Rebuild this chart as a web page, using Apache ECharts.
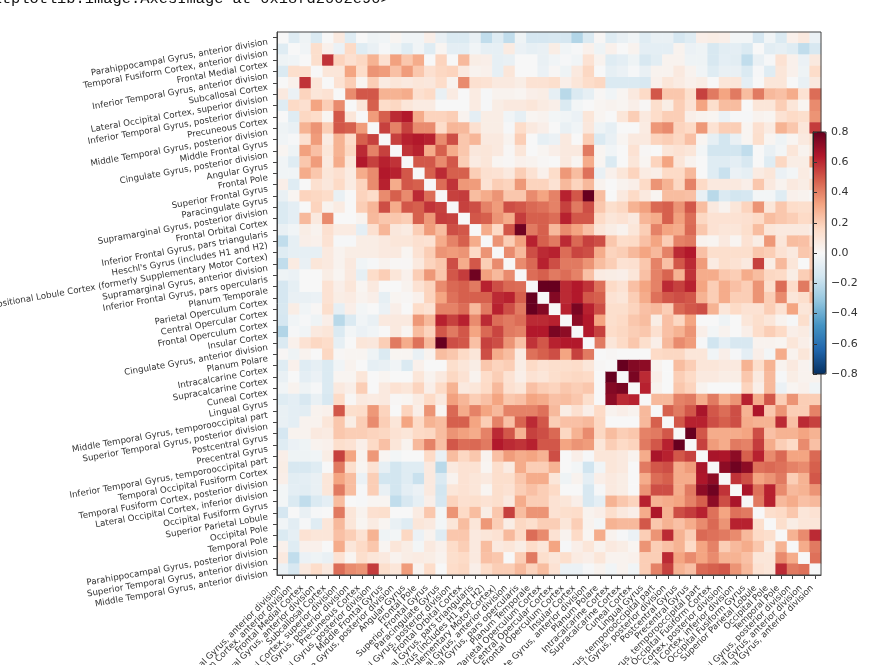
<!DOCTYPE html>
<html><head><meta charset="utf-8">
<style>html,body{margin:0;padding:0;background:#fff}#c{width:877px;height:665px;filter:blur(0.4px)}</style>
<script src="https://cdn.jsdelivr.net/npm/echarts@6/dist/echarts.min.js"></script>
</head><body><div id="c"></div>
<script>
const regions = ["Parahippocampal Gyrus, anterior division","Temporal Fusiform Cortex, anterior division","Frontal Medial Cortex","Inferior Temporal Gyrus, anterior division","Subcallosal Cortex","Lateral Occipital Cortex, superior division","Inferior Temporal Gyrus, posterior division","Precuneous Cortex","Middle Temporal Gyrus, posterior division","Middle Frontal Gyrus","Cingulate Gyrus, posterior division","Angular Gyrus","Frontal Pole","Superior Frontal Gyrus","Paracingulate Gyrus","Supramarginal Gyrus, posterior division","Frontal Orbital Cortex","Inferior Frontal Gyrus, pars triangularis","Heschl's Gyrus (includes H1 and H2)","Juxtapositional Lobule Cortex (formerly Supplementary Motor Cortex)","Supramarginal Gyrus, anterior division","Inferior Frontal Gyrus, pars opercularis","Planum Temporale","Parietal Operculum Cortex","Central Opercular Cortex","Frontal Operculum Cortex","Insular Cortex","Cingulate Gyrus, anterior division","Planum Polare","Intracalcarine Cortex","Supracalcarine Cortex","Cuneal Cortex","Lingual Gyrus","Middle Temporal Gyrus, temporooccipital part","Superior Temporal Gyrus, posterior division","Postcentral Gyrus","Precentral Gyrus","Inferior Temporal Gyrus, temporooccipital part","Temporal Occipital Fusiform Cortex","Temporal Fusiform Cortex, posterior division","Lateral Occipital Cortex, inferior division","Occipital Fusiform Gyrus","Superior Parietal Lobule","Occipital Pole","Temporal Pole","Parahippocampal Gyrus, posterior division","Superior Temporal Gyrus, anterior division","Middle Temporal Gyrus, anterior division"];

// Upper triangle of the correlation matrix: each row holds the columns right of the diagonal.
const r01=[-.1,-.04,-.12,0,.08,-.1,0,-.04,-.03,.02,-.03,-.03,.05,-.06,-.12,-.12,-.06,-.2,-.1,-.2,-.04,-.14,-.14,-.13,-.14,-.24,-.12,.01,-.1,-.06,-.03,-.1,-.06,-.06,-.14,-.1,.05,.06,.05,-.02,-.02,-.14,-.03,-.12,.04,.08,-.05];
const r02=[-.03,.14,.04,-.05,.16,-.1,-.06,-.01,-.04,-.1,-.03,-.1,.02,-.08,-.08,-.03,-.07,-.07,.07,-.05,-.07,-.06,.06,-.03,-.01,.04,-.04,.04,0,.03,-.08,-.08,-.08,.03,-.05,-.04,-.13,-.09,-.08,-.12,0,-.09,-.07,-.1,-.2,-.13];
const r03=[.14,.58,.18,.13,.17,.28,.13,.33,.22,.3,0,.18,0,.26,.06,.05,-.07,-.06,0,0,-.06,-.03,-.01,-.03,.12,.03,-.1,-.08,-.04,-.13,-.09,.03,.03,-.04,-.04,-.13,-.08,-.09,-.2,-.06,-.01,.12,.04,-.05,.08];
const r04=[.1,.1,.32,.15,.36,.34,.24,.34,.22,.13,.17,.18,.08,.03,.04,-.07,.1,0,0,-.05,.01,-.04,.08,.17,0,-.07,-.05,-.01,-.06,.03,.03,.08,.03,-.03,-.1,-.06,-.06,-.12,-.01,-.1,.1,.04,-.04,.15];
const r05=[.12,.2,.02,.2,.07,.1,.08,.1,.09,.15,.03,.38,.13,.12,.08,.08,.06,.12,.12,.14,.05,.1,.15,.17,-.12,-.12,-.12,-.13,.04,.1,.07,.04,.06,0,.1,.1,-.08,0,.1,.1,0,-.06,.08];
const r06=[.38,.5,.5,.28,.28,.3,.13,.16,-.06,.07,0,.07,-.01,.03,.03,.02,.05,.06,-.07,-.22,-.12,-.07,.01,-.03,.02,.08,.16,.5,.22,.22,.14,.55,.42,.32,.42,.25,.42,.26,.24,.3,.12,.45];
const r07=[.1,.48,.15,.17,.1,.07,.07,0,0,0,.07,-.01,.06,.08,.08,.1,.07,.05,-.12,-.02,0,.02,.03,.02,.05,.01,.14,.06,.2,.12,.32,.14,.25,.25,0,.1,.1,.2,.1,.02,.38];
const r08=[.34,.48,.6,.64,.3,.18,.18,.2,.03,-.08,.06,.06,-.03,-.07,.02,.03,-.02,-.03,-.05,.1,.02,0,.1,.2,.08,.15,.2,.2,.05,.03,.02,-.05,-.01,-.01,.03,.02,.12,.16,.14,.36];
const r09=[.55,.4,.55,.38,.38,.15,.27,.26,.13,.06,.06,-.01,.15,.08,.05,0,-.06,-.03,.09,-.04,-.07,0,0,.07,.35,.38,.18,.16,.35,.12,.2,.2,.02,.13,.07,.28,.22,.1,.56];
const r10=[.55,.62,.64,.62,.38,.52,.22,.27,.08,.08,.03,.2,0,-.07,-.05,.08,0,.2,-.12,-.06,.02,.08,.08,.18,.2,.17,.24,.02,-.07,-.15,-.06,.02,.14,.02,-.04,.02,.08,.14];
const r11=[.58,.62,.3,.48,.3,.22,.09,.1,.08,.01,.1,0,.02,.05,.08,.08,.42,.02,-.03,0,.12,.01,0,.1,.12,.1,-.02,-.15,-.15,-.15,-.2,0,-.06,-.02,.1,.03,.1];
const r12=[.5,.5,.38,.5,.2,.07,.1,.02,.01,.04,.03,.01,0,.08,.02,.3,.02,-.12,0,.1,.02,.18,.32,.1,.03,0,-.1,-.1,-.08,-.13,0,-.1,.17,.06,.06,.34];
const r13=[.48,.6,.48,.48,.2,.13,.12,.08,.2,.12,.04,.15,.35,.25,.44,-.06,.04,.1,.18,.07,.05,.16,.16,.26,0,-.1,-.18,-.05,-.07,.07,.1,-.05,-.02,.07,.03];
const r14=[.45,.58,.35,.34,.12,.2,.18,.35,.18,.18,.12,.26,.18,.26,.03,0,.03,.05,.16,.36,.28,.17,.4,.16,.08,.08,.08,.05,.22,.08,.03,.08,.06,.15];
const r15=[.55,.56,.25,.3,.36,.22,.22,.38,.32,.4,.62,.5,.8,.25,0,.08,.16,.08,.02,.25,.25,.24,-.06,-.22,-.12,-.15,-.14,-.02,-.02,-.1,.04,.03,0];
const r16=[.55,.52,.4,.34,.52,.5,.46,.44,.4,.55,.42,.52,.22,.14,.17,.28,.33,.46,.48,.36,.5,.25,.08,.03,.1,.18,.36,.1,.22,.15,.14,.15];
const r17=[.5,.48,.36,.3,.56,.48,.48,.45,.62,.5,.5,.16,.1,.12,.08,.27,.3,.48,.33,.45,.17,.12,.12,.12,.13,.16,.25,.22,.2,.16,.17];
const r18=[.3,.16,.5,.78,.42,.48,.26,.38,.32,.24,.1,.06,.03,.1,.2,.4,.32,.3,.46,.22,.12,.1,.1,.14,.25,.1,.08,.08,.08,.05];
const r19=[.36,.2,.33,.62,.48,.42,.6,.46,.55,.52,.22,.15,.16,.24,.32,.2,.4,.42,.03,.02,.08,.02,.12,.06,.35,.1,.25,.24,.15];
const r20=[.38,.26,.52,.6,.62,.45,.54,.52,.3,.18,.2,.26,.32,.26,.4,.6,.64,.24,.14,.14,.14,.14,.22,.2,.12,.08,.22,.2];
const r21=[.38,.46,.62,.52,.42,.42,.36,.25,.2,.12,.13,.22,.4,.24,.5,.6,.34,.07,.14,.12,.08,.55,.06,.26,.1,0,.2];
const r22=[.45,.48,.42,.45,.4,.24,.07,.06,.05,.1,.24,.4,.47,.28,.58,.3,.3,.22,.2,.3,.25,.17,.16,.06,.2,.26];
const r23=[.8,.8,.6,.64,.58,.44,.16,.12,.24,.32,.4,.6,.55,.62,.32,.2,.3,.24,.2,.36,.14,.45,.15,.42,.18];
const r24=[.74,.6,.64,.5,.48,.12,.1,.2,.3,.44,.5,.52,.5,.28,.2,.3,.2,.2,.36,.2,.38,.1,.14,.25];
const r25=[.62,.76,.62,.52,.14,.14,.18,.24,.26,.2,.46,.5,.52,.28,.1,.16,.12,.12,.2,.12,.32,.1,.12];
const r26=[.72,.64,.32,.14,.16,.22,.25,.06,.24,.17,.32,0,0,-.04,0,.1,.14,.1,.03,-.01,.14,-.05];
const r27=[.64,.55,.15,.17,.2,.22,.13,.24,.28,.36,.05,-.02,.03,0,.05,.15,.2,.16,.05,.07,-.05];
const r28=[.42,.1,.16,.22,.14,.05,.26,.38,.34,-.01,-.16,-.08,-.13,-.13,.03,.03,.02,.1,.05,-.01];
const r29=[.01,0,0,0,.16,.17,.17,.1,.1,-.03,.05,-.01,-.08,.05,-.02,.3,.03,.1,.03];
const r30=[.8,.74,.72,.03,0,.25,.2,.1,.1,.08,.08,.28,.14,.28,.03,.08,.03,-.03];
const r31=[.76,.6,.05,0,.2,.16,.08,.08,.06,.06,.22,.08,.26,-.01,.06,.03,.03];
const r32=[.62,.03,0,.22,.18,.03,0,0,0,.18,.05,.26,-.05,.02,.04,-.03];
const r33=[.26,.26,.4,.42,.3,.42,.3,.36,.62,.3,.5,.2,.36,.2,.2];
const r34=[.48,.42,.5,.66,.5,.45,.52,.28,.65,.22,.36,.2,.2,.4];
const r35=[.5,.62,.62,.52,.48,.52,.3,.28,.28,.6,.24,.6,.55];
const r36=[.8,.5,.3,.3,.3,.32,.52,.24,.28,.28,.32,.28];
const r37=[.55,.34,.3,.42,.4,.56,.3,.2,.16,.38,.24];
const r38=[.66,.65,.72,.48,.62,.38,.46,.32,.32,.46];
const r39=[.72,.78,.72,.44,.46,.44,.4,.38,.48];
const r40=[.58,.52,.32,.36,.42,.2,.28,.5];
const r41=[.66,.44,.62,.38,.26,.28,.36];
const r42=[.42,.62,.26,.3,.24,.26];
const r43=[.14,.16,.22,.1,.12];
const r44=[.14,.06,.1,.1];
const r45=[.28,.38,.6];
const r46=[.3,.42];
const r47=[.44];
const upperRows=[r01,r02,r03,r04,r05,r06,r07,r08,r09,r10,r11,r12,r13,r14,r15,r16,r17,r18,r19,r20,r21,r22,r23,r24,r25,r26,r27,r28,r29,r30,r31,r32,r33,r34,r35,r36,r37,r38,r39,r40,r41,r42,r43,r44,r45,r46,r47];
const colorbarTicks=[-.8,-.6,-.4,-.2,0,.2,.4,.6,.8];
const notebookEcho="<matplotlib.image.AxesImage at 0x18fd2002e90>";

const n=regions.length, cells=[];
upperRows.forEach((row,i)=>{
  if(row.length!==n-1-i) throw new Error('row '+(i+1)+' has '+row.length);
  row.forEach((v,k)=>{const j=i+1+k; cells.push([j,i,v]); cells.push([i,j,v]);});
});
for(let i=0;i<n;i++) cells.push([i,i,0]);

const rdbu=['#053061','#2166ac','#4393c3','#92c5de','#d1e5f0','#f7f7f7','#fddbc7','#f4a582','#d6604d','#b2182b','#67001f'];
const ink='#333', spine='#444';
const chart=echarts.init(document.getElementById('c'));
chart.setOption({
  animation:false,
  backgroundColor:'#fff',
  graphic:[{type:'text',x:-26,y:-9,style:{text:notebookEcho,font:'15.4px "Liberation Mono"',fill:'#111'}}],
  grid:[
    {left:277,top:32,width:544,height:543,outerBoundsMode:'none',containLabel:false,show:true,backgroundColor:'transparent',borderColor:spine,borderWidth:1,z:3},
    {left:813,top:132,width:13,height:242,outerBoundsMode:'none',containLabel:false,show:true,backgroundColor:'transparent',borderColor:'#222',borderWidth:1,z:8}
  ],
  xAxis:[
    {type:'category',gridIndex:0,data:regions,position:'bottom',z:3,
     axisTick:{show:true,alignWithLabel:true,length:4,lineStyle:{color:spine}},
     axisLine:{lineStyle:{color:spine}},
     axisLabel:{interval:0,rotate:45,margin:15,fontSize:8.7,fontFamily:'DejaVu Sans',color:ink,verticalAlign:'bottom',hideOverlap:false},
     splitLine:{show:false},splitArea:{show:false}},
    {type:'value',gridIndex:1,show:false,min:0,max:1}
  ],
  yAxis:[
    {type:'category',gridIndex:0,data:regions,inverse:true,z:3,
     axisTick:{show:true,alignWithLabel:true,length:4,lineStyle:{color:spine}},
     axisLine:{lineStyle:{color:spine}},
     axisLabel:{interval:0,rotate:10,margin:10,fontSize:8.7,fontFamily:'DejaVu Sans',color:ink,verticalAlign:'top',hideOverlap:false},
     splitLine:{show:false},splitArea:{show:false}},
    {type:'value',gridIndex:1,position:'right',min:colorbarTicks[0],max:colorbarTicks[colorbarTicks.length-1],interval:.2,z:8,
     axisLine:{show:true,lineStyle:{color:'#222'}},
     axisTick:{show:true,length:4,lineStyle:{color:'#333'}},
     axisLabel:{margin:5,fontSize:11,fontFamily:'DejaVu Sans',color:ink,formatter:v=>v.toFixed(1).replace('-','\u2212')},
     splitLine:{show:false}}
  ],
  visualMap:{type:'continuous',seriesIndex:0,min:-.8,max:.8,calculable:false,realtime:false,hoverLink:false,
    left:813,top:132,itemWidth:13,itemHeight:242,padding:0,showLabel:false,text:null,
    inRange:{color:rdbu}},
  series:[{type:'heatmap',xAxisIndex:0,yAxisIndex:0,data:cells,progressive:0,silent:true,itemStyle:{borderWidth:0}}]
});
</script></body></html>
